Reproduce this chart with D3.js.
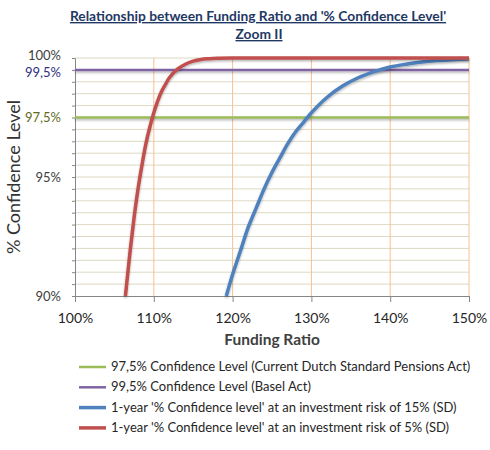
<!DOCTYPE html>
<html>
<head>
<meta charset="utf-8">
<script src="https://cdn.jsdelivr.net/npm/d3@7"></script>
<style>
  body { margin: 0; background: #fff; }
  text { font-family: Lato, "Open Sans", sans-serif; }
</style>
</head>
<body>
<div id="chart"></div>
<script>
// funding ratio (%) ticks and confidence level ticks
var xTicks = [100, 110, 120, 130, 140, 150];
var yTicks = [90, 95, 97.5, 99.5, 100];
var yTickLabels = ["90%", "95%", "97,5%", "99,5%", "100%"];
var yMinor = [90.5, 91, 91.5, 92, 92.5, 93, 93.5, 94, 94.5, 95, 95.5, 96, 96.5, 97, 97.5, 98, 98.5, 99, 99.5, 100];

// 5% SD curve
var redFR = [106.4, 107, 107.5, 108, 108.5, 109, 109.5, 110, 110.5, 111, 111.5, 112, 113, 114, 115, 116, 117, 118, 120, 125, 130, 140, 150];
var redCL = [90.0, 91.9, 93.3, 94.5, 95.5, 96.4, 97.1, 97.7, 98.2, 98.6, 98.9, 99.18, 99.53, 99.74, 99.87, 99.94, 99.97, 99.99, 100, 100, 100, 100, 100];

// 15% SD curve
var blueFR = [119.2, 120, 121, 122, 123, 124, 125, 126, 127, 128, 129, 130, 132, 134, 136, 138, 140, 142, 144, 146, 148, 150];
var blueCL = [90.0, 90.9, 91.9, 92.9, 93.7, 94.5, 95.2, 95.8, 96.4, 96.9, 97.3, 97.7, 98.35, 98.83, 99.18, 99.43, 99.62, 99.74, 99.83, 99.89, 99.93, 99.96];

// constant confidence levels
var levelGreen = 97.5;
var levelPurple = 99.5;

var legendLabels = [
    "97,5% Confidence Level (Current Dutch Standard Pensions Act)",
    "99,5% Confidence Level (Basel Act)",
    "1-year '% Confidence level' at an investment risk of 15% (SD)",
    "1-year '% Confidence level' at an investment risk of 5% (SD)"
];
var colors = ["#9BBB59", "#8064A2", "#4F81BD", "#C0504D"];

var W = 490, H = 450;
// plot box (note: "top" is reserved by window)
var pL = 75, pR = 469, pT = 58, pB = 296;

var svg = d3.select("#chart").append("svg")
    .attr("width", W)
    .attr("height", H);

// soft shadow like the excel lines; userSpaceOnUse so flat lines still show
var defs = svg.append("defs");
var f = defs.append("filter").attr("id", "shadow")
    .attr("filterUnits", "userSpaceOnUse")
    .attr("x", 0).attr("y", 0).attr("width", W).attr("height", H);
f.append("feDropShadow")
    .attr("dx", 0).attr("dy", 1.5).attr("stdDeviation", 1)
    .attr("flood-color", "#000").attr("flood-opacity", 0.3);

var x = d3.scaleLinear().domain([100, 150]).range([pL, pR]);
var y = d3.scaleLinear().domain([90, 100]).range([pB, pT]);

// title
var title = svg.append("g").attr("fill", "#1F3864")
    .attr("font-weight", "bold").attr("font-size", 13.8)
    .attr("text-anchor", "middle").attr("text-decoration", "underline");
title.append("text").attr("x", 258).attr("y", 21)
    .text("Relationship between Funding Ratio and '% Confidence Level'");
title.append("text").attr("x", 259).attr("y", 39).text("Zoom II");

// horizontal grid
svg.append("g").selectAll("line")
    .data(yMinor)
    .enter().append("line")
    .attr("x1", pL).attr("x2", pR)
    .attr("y1", (d) => y(d)).attr("y2", (d) => y(d))
    .attr("stroke", "#DDD9C3").attr("stroke-width", 1);

// vertical grid
svg.append("g").selectAll("line")
    .data(xTicks.slice(1))
    .enter().append("line")
    .attr("x1", (d) => x(d)).attr("x2", (d) => x(d))
    .attr("y1", pT).attr("y2", pB)
    .attr("stroke", "#FAC090").attr("stroke-width", 1);

// y axis
var yAxis = svg.append("g").attr("transform", "translate(" + pL + ",0)")
    .call(d3.axisLeft(y).tickValues(yMinor.concat([90])).tickSize(3).tickFormat(""));
yAxis.select(".domain").attr("stroke", "#868686");
yAxis.selectAll(".tick line").attr("stroke", "#868686");

var yLabelColor = { "90%": "#404040", "95%": "#404040", "97,5%": "#5F6B1E", "99,5%": "#2F2F80", "100%": "#404040" };
svg.append("g").selectAll("text")
    .data(yTicks)
    .enter().append("text")
    .attr("x", 61)
    .attr("y", (d, i) => y(d) + (d === 100 ? 2 : 4.5) + (d === 99.5 ? 3 : 0))
    .attr("text-anchor", "end")
    .attr("font-size", 13)
    .attr("fill", (d, i) => yLabelColor[yTickLabels[i]])
    .text((d, i) => yTickLabels[i]);

// x axis
var xAxis = svg.append("g").attr("transform", "translate(0," + pB + ")")
    .call(d3.axisBottom(x).tickValues(xTicks).tickSize(6).tickFormat((d) => d + "%"));
xAxis.select(".domain").attr("stroke", "#868686");
xAxis.selectAll(".tick line").attr("stroke", "#868686");
xAxis.selectAll(".tick text")
    .attr("font-family", "Lato, sans-serif")
    .attr("font-size", 14)
    .attr("fill", "#262626")
    .attr("dy", 0).attr("y", 27);

// axis titles
svg.append("text")
    .attr("x", (pL + pR) / 2).attr("y", 345)
    .attr("text-anchor", "middle")
    .attr("font-weight", "bold").attr("font-size", 15.5)
    .attr("fill", "#404040")
    .text("Funding Ratio");

svg.append("text")
    .attr("transform", "translate(20,177) rotate(-90)")
    .attr("text-anchor", "middle")
    .attr("font-size", 18)
    .attr("fill", "#333")
    .text("% Confidence Level");

// series
var line = d3.line()
    .x((d) => x(d[0]))
    .y((d) => y(d[1]))
    .curve(d3.curveCatmullRom.alpha(0.5));

var series = [
    { data: [[100, levelGreen], [150, levelGreen]], color: colors[0], w: 2.5 },
    { data: [[100, levelPurple], [150, levelPurple]], color: colors[1], w: 2.5 },
    { data: d3.zip(blueFR, blueCL), color: colors[2], w: 3.5 },
    { data: d3.zip(redFR, redCL), color: colors[3], w: 3.5 }
];

svg.append("g").selectAll("path")
    .data(series)
    .enter().append("path")
    .attr("d", (d) => line(d.data))
    .attr("fill", "none")
    .attr("stroke", (d) => d.color)
    .attr("stroke-width", (d) => d.w)
    .attr("filter", "url(#shadow)");

// legend
var legend = svg.append("g").selectAll("g")
    .data(legendLabels)
    .enter().append("g")
    .attr("transform", (d, i) => "translate(0," + (371 + i * 20.3) + ")");

legend.append("line")
    .attr("x1", 79).attr("x2", 106)
    .attr("y1", -4).attr("y2", -4)
    .attr("stroke", (d, i) => colors[i])
    .attr("stroke-width", (d, i) => i < 2 ? 2.5 : 3.5);

legend.append("text")
    .attr("x", 111).attr("y", 0)
    .attr("font-size", 13)
    .attr("fill", "#262626")
    .text((d) => d);
</script>
</body>
</html>
